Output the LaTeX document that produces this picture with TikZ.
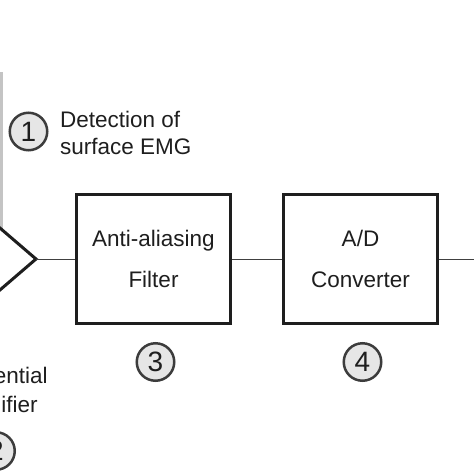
\documentclass[tikz,border=0pt]{standalone}
\usepackage{fontspec}
\setmainfont{Liberation Sans}
\usetikzlibrary{positioning}
\definecolor{numfill}{HTML}{E6E6E6}
\definecolor{numline}{HTML}{3C3C3C}
\definecolor{leadgray}{HTML}{C4C4C4}
\definecolor{inkgray}{HTML}{1E1E1E}
\begin{document}
\begin{tikzpicture}[x=1pt, y=-1pt,
  block/.style={draw=inkgray, line width=3pt, minimum width=154pt, minimum height=129pt, align=center, text=inkgray, font=\fontsize{22.5}{41}\selectfont},
  num/.style={shape=circle, draw=numline, fill=numfill, line width=2.5pt, minimum size=37.5pt, inner sep=0pt, text=inkgray, font=\fontsize{28}{28}\selectfont},
  caption/.style={text=inkgray, inner sep=0pt},
  wire/.style={draw=inkgray!85, line width=1pt}]
\clip (0,0) rectangle (474,474);
% electrode lead and amplifier
\draw[leadgray, line width=2.5pt] (1.5,72) -- (1.5,229);
\draw[inkgray, line width=3pt, line join=miter] (-60,176.5) -- (36,259) coordinate (amp) -- (-60,341.5);
% blocks
\node[block] (aaf) at (153.5,259) {Anti-aliasing\\Filter};
\node[block] (adc) at (360.5,259) {A/D\\Converter};
\coordinate (out) at (480,259);
\draw[wire] (amp) -- (aaf);
\draw[wire] (aaf) -- (adc);
\draw[wire] (adc) -- (out);
% numbered steps
\node[num] (n1) at (28.5,131.5) {1};
\node[caption, anchor=west, align=left, font=\fontsize{22.5}{27}\selectfont] (det) at (60,132.5) {Detection of\\surface EMG};
\node[num, below=17pt of aaf, xshift=2pt] (n3) {3};
\node[num, below=17pt of adc, xshift=2pt] (n4) {4};
\node[caption, align=center, font=\fontsize{22.5}{29}\selectfont] (diff) at (-6,392) {Differential\\Amplifier};
\node[num] (n2) at (-4,451) {2};
\end{tikzpicture}
\end{document}
